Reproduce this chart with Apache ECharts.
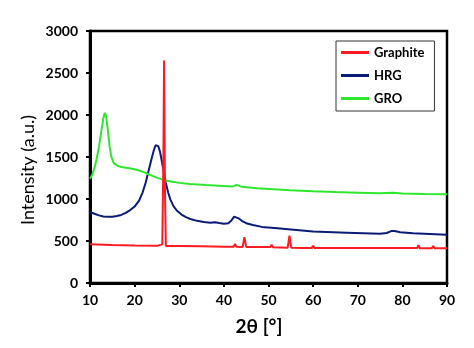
<!DOCTYPE html>
<html>
<head>
<meta charset="utf-8">
<script src="https://cdn.jsdelivr.net/npm/echarts@6/dist/echarts.min.js"></script>
<style>
html,body{margin:0;padding:0;background:#fff;}
#chart{width:474px;height:348px;}
</style>
</head>
<body>
<div id="chart"></div>
<script>
// Graphite
var graphiteX = [10, 15, 20, 25, 26.2, 26.45, 26.6, 26.8, 27.0, 30, 35, 40, 42.2, 42.5, 42.8, 44.2, 44.6, 45.0, 48, 50.4, 50.7, 51.0, 54.3, 54.7, 55.1, 58, 59.7, 60.0, 60.3, 65, 70, 77.3, 77.6, 77.9, 83.3, 83.6, 83.9, 86.6, 86.9, 87.2, 90];
var graphiteY = [462, 452, 445, 442, 460, 1500, 2650, 1100, 440, 440, 437, 433, 432, 465, 432, 430, 545, 430, 428, 428, 455, 425, 420, 565, 420, 418, 418, 444, 418, 418, 417, 417, 435, 417, 417, 450, 415, 415, 440, 415, 415];
// HRG
var hrgX = [10, 11, 12, 13, 14, 15, 16, 17, 18, 19, 20, 21, 21.8, 22.5, 23.2, 23.8, 24.3, 24.7, 25.0, 25.3, 25.7, 26.1, 26.5, 27.0, 27.5, 28, 28.7, 29.5, 30.5, 31.5, 32.5, 34, 35.5, 37, 38, 39, 40, 41, 41.7, 42.3, 42.7, 43.3, 44, 45, 46.5, 48.5, 52, 55, 60, 67.5, 75, 76.5, 77.5, 78.3, 79.5, 82.4, 90];
var hrgY = [845, 825, 805, 792, 788, 790, 797, 810, 835, 868, 910, 980, 1080, 1200, 1350, 1480, 1580, 1640, 1652, 1630, 1560, 1450, 1330, 1190, 1080, 995, 915, 860, 815, 785, 762, 740, 725, 717, 722, 713, 705, 712, 745, 790, 795, 770, 740, 712, 690, 668, 652, 638, 612, 599, 585, 595, 618, 620, 605, 592, 575];
// GRO
var groX = [10, 10.5, 11, 11.5, 12, 12.5, 13.0, 13.3, 13.6, 14.0, 14.4, 14.8, 15.3, 16, 17, 18.5, 20, 21, 22, 23, 24, 25, 26, 27, 28.5, 30, 32.4, 36, 39.8, 42, 42.9, 44, 47.4, 54.8, 60, 65, 70, 75, 77.9, 80, 85, 90];
var groY = [1240, 1290, 1370, 1480, 1620, 1800, 1960, 2025, 1990, 1820, 1620, 1500, 1430, 1400, 1380, 1368, 1355, 1340, 1320, 1298, 1275, 1255, 1237, 1220, 1205, 1192, 1180, 1166, 1156, 1150, 1168, 1145, 1127, 1105, 1092, 1082, 1075, 1068, 1073, 1065, 1060, 1058];

var xTicks = [10, 20, 30, 40, 50, 60, 70, 80, 90];
var yTicks = [0, 500, 1000, 1500, 2000, 2500, 3000];
var seriesNames = ['Graphite', 'HRG', 'GRO'];

function pairs(xs, ys) { return xs.map(function (x, i) { return [x, ys[i]]; }); }

var chart = echarts.init(document.getElementById('chart'), null, {renderer: 'canvas'});
var option = {
  animation: false,
  backgroundColor: '#fff',
  grid: {left: 90, right: 27, top: 31, bottom: 65, show: true, borderColor: '#000', borderWidth: 2.5, backgroundColor: 'transparent'},
  legend: {
    data: seriesNames,
    orient: 'vertical',
    left: 336, top: 41,
    icon: 'rect',
    itemWidth: 28, itemHeight: 3,
    itemGap: 10,
    padding: [5, 10, 6, 5],
    borderColor: '#333', borderWidth: 1,
    textStyle: {fontFamily: 'Lato', fontWeight: 'bold', fontSize: 13, color: '#000'}
  },
  xAxis: {
    type: 'value', min: xTicks[0], max: xTicks[xTicks.length - 1], interval: 10,
    axisLine: {lineStyle: {color: '#000', width: 3}},
    axisTick: {show: true, inside: false, length: 4, lineStyle: {color: '#000', width: 2}},
    axisLabel: {margin: 10, fontFamily: 'Lato', fontWeight: 'bold', fontSize: 14, color: '#000'},
    splitLine: {show: false}
  },
  yAxis: {
    type: 'value', min: yTicks[0], max: yTicks[yTicks.length - 1], interval: 500,
    axisLine: {show: true, lineStyle: {color: '#000', width: 3}},
    axisTick: {show: true, inside: false, length: 4, lineStyle: {color: '#000', width: 2}},
    axisLabel: {margin: 12, fontFamily: 'Lato', fontWeight: 'bold', fontSize: 14, color: '#000', formatter: function (v) { return String(v); }},
    splitLine: {show: false}
  },
  graphic: [
    {type: 'text', x: 28, y: 170, rotation: Math.PI / 2, style: {text: 'Intensity (a.u.)', font: '18px Lato', fill: '#000', textAlign: 'center', textVerticalAlign: 'middle'}},
    {type: 'text', x: 259, y: 327, style: {text: '2θ [°]', font: 'bold 19px Lato', fill: '#000', textAlign: 'center', textVerticalAlign: 'middle'}}
  ],
  series: [
    {name: 'Graphite', type: 'line', data: pairs(graphiteX, graphiteY), showSymbol: false, symbol: 'none', lineStyle: {color: '#ff1a22', width: 2}, itemStyle: {color: '#ff1a22'}, z: 3},
    {name: 'HRG', type: 'line', data: pairs(hrgX, hrgY), showSymbol: false, symbol: 'none', lineStyle: {color: '#0b1c78', width: 2}, itemStyle: {color: '#0b1c78'}, z: 2},
    {name: 'GRO', type: 'line', data: pairs(groX, groY), showSymbol: false, symbol: 'none', lineStyle: {color: '#2ee82e', width: 2}, itemStyle: {color: '#2ee82e'}, z: 2}
  ]
};
chart.setOption(option);
</script>
</body>
</html>
